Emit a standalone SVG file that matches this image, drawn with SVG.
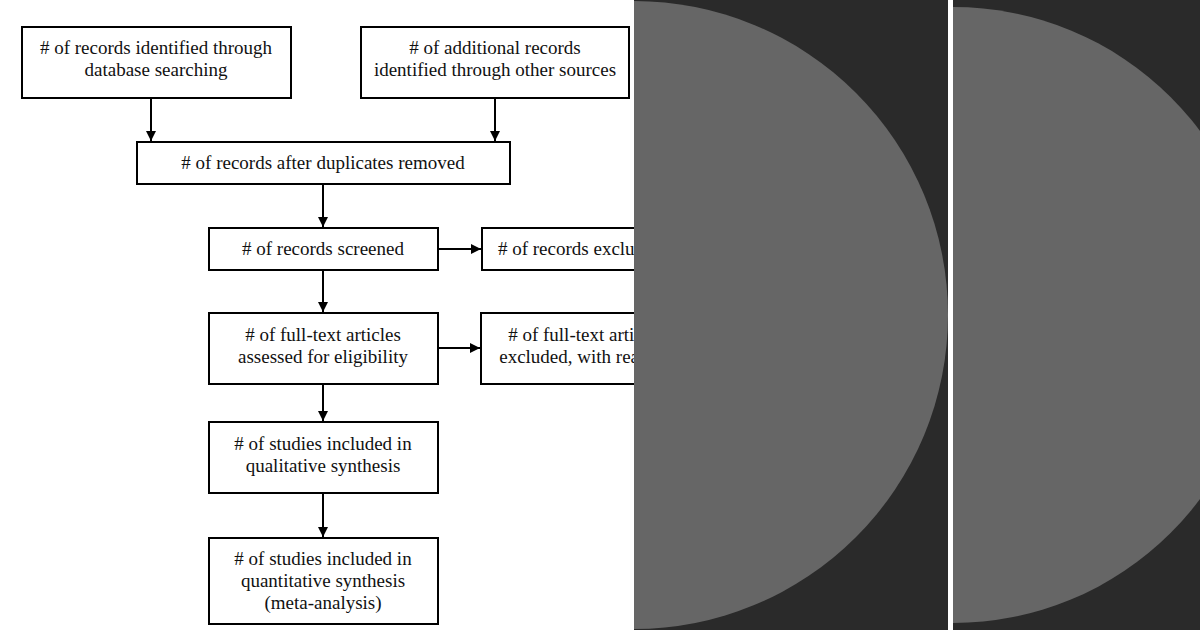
<svg xmlns="http://www.w3.org/2000/svg" width="1200" height="630" viewBox="0 0 1200 630">
<defs>
<style>
.b{fill:#fff;stroke:#000;stroke-width:2}
.t{font-family:"Liberation Serif",serif;font-size:19px;fill:#111;text-anchor:middle}
.c{stroke:#000;stroke-width:2;fill:none;marker-end:url(#a)}
</style>
<marker id="a" viewBox="0 0 10 10" refX="10" refY="5" markerWidth="5" markerHeight="5" orient="auto"><path d="M0,0L10,5L0,10z"/></marker>
<clipPath id="p1"><rect x="634" y="0" width="314" height="630"/></clipPath>
<clipPath id="p2"><rect x="953" y="0" width="247" height="630"/></clipPath>
</defs>
<rect width="1200" height="630" fill="#fff"/>
<g id="connectors">
<path class="c" d="M151,98V141"/>
<path class="c" d="M495,98V141"/>
<path class="c" d="M323,184V227"/>
<path class="c" d="M438,249H481"/>
<path class="c" d="M323,270V312"/>
<path class="c" d="M438,348H480"/>
<path class="c" d="M323,384V421"/>
<path class="c" d="M323,493V537"/>
</g>
<g id="n1"><rect class="b" x="22" y="27" width="269" height="71"/><text class="t" x="156" y="54"># of records identified through</text><text class="t" x="156" y="76">database searching</text></g>
<g id="n2"><rect class="b" x="361" y="27" width="268" height="71"/><text class="t" x="495" y="54"># of additional records</text><text class="t" x="495" y="76">identified through other sources</text></g>
<g id="n3"><rect class="b" x="137" y="142" width="373" height="42"/><text class="t" x="323" y="169"># of records after duplicates removed</text></g>
<g id="n4"><rect class="b" x="209" y="228" width="229" height="42"/><text class="t" x="323" y="255"># of records screened</text></g>
<g id="n5"><rect class="b" x="482" y="228" width="229" height="42"/><text class="t" x="580" y="255"># of records excluded</text></g>
<g id="n6"><rect class="b" x="209" y="313" width="229" height="71"/><text class="t" x="323" y="341"># of full-text articles</text><text class="t" x="323" y="363">assessed for eligibility</text></g>
<g id="n7"><rect class="b" x="481" y="313" width="229" height="71"/><text class="t" x="586" y="341"># of full-text articles</text><text class="t" x="586" y="363">excluded, with reasons</text></g>
<g id="n8"><rect class="b" x="209" y="422" width="229" height="71"/><text class="t" x="323" y="450"># of studies included in</text><text class="t" x="323" y="472">qualitative synthesis</text></g>
<g id="n9"><rect class="b" x="209" y="538" width="229" height="86"/><text class="t" x="323" y="565"># of studies included in</text><text class="t" x="323" y="587">quantitative synthesis</text><text class="t" x="323" y="609">(meta-analysis)</text></g>
<rect x="634" y="0" width="314" height="630" fill="#2a2a2a"/>
<circle cx="634" cy="315" r="314" fill="#666" clip-path="url(#p1)"/>
<rect x="953" y="0" width="247" height="630" fill="#2a2a2a"/>
<circle cx="953" cy="315" r="308" fill="#666" clip-path="url(#p2)"/>
</svg>
